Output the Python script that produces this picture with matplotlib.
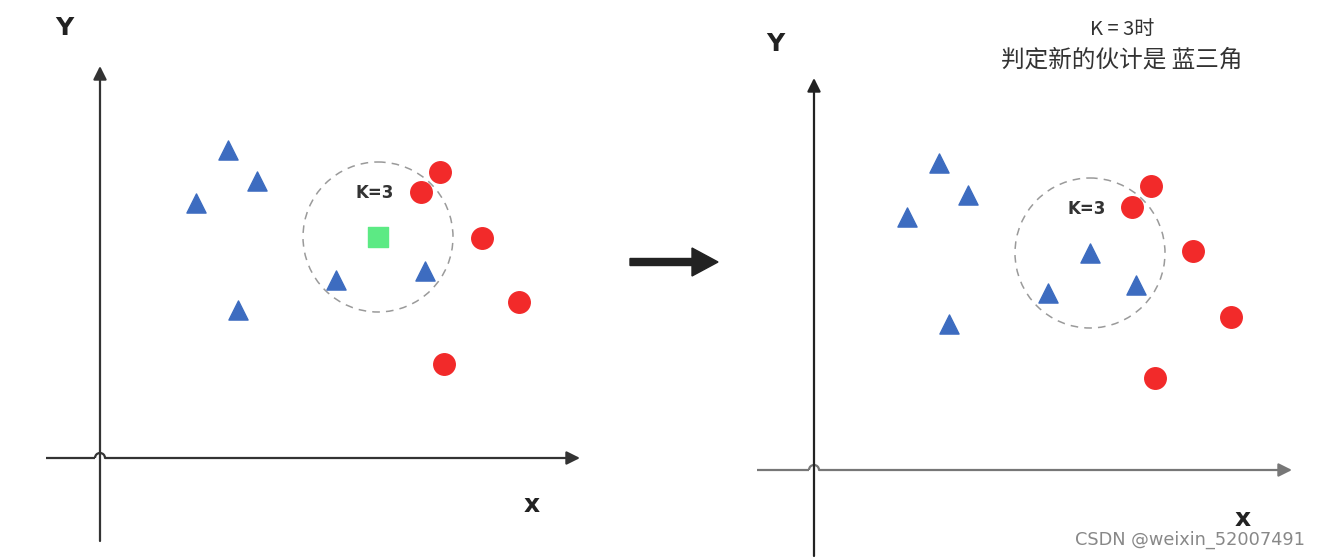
import matplotlib
matplotlib.use("Agg")
import matplotlib.pyplot as plt
from matplotlib.patches import Circle, Arc, FancyArrow

plt.rcParams['font.family'] = ['Noto Sans CJK SC', 'DejaVu Sans']

W, H = 1322, 559

# ---- data (pixel-space diagram coordinates) ----
left_tri_x = [228, 257, 196, 238, 336, 425]
left_tri_y = [150, 181, 203, 310, 280, 271]
left_red_x = [440, 421, 482, 519, 444]
left_red_y = [172, 192, 238, 302, 364]
left_new_x = [378]
left_new_y = [237]

right_tri_x = [939, 968, 907, 949, 1090, 1048, 1136]
right_tri_y = [163, 195, 217, 324, 253, 293, 285]
right_red_x = [1151, 1132, 1193, 1231, 1155]
right_red_y = [186, 207, 251, 317, 378]

k_value = 3
title_line1 = "K = 3时"
title_line2 = "判定新的伙计是 蓝三角"
watermark = "CSDN @weixin_52007491"

BLUE = '#3d6cc0'
RED = '#f22a2a'
GREEN = '#5cea84'

fig = plt.figure(figsize=(W / 100, H / 100), dpi=100)
ax = fig.add_axes([0, 0, 1, 1])
ax.set_xlim(0, W)
ax.set_ylim(H, 0)
ax.axis('off')


def draw_axes(ox, oy, x0, x1, ytop, ybot, xcol, ycol, ylab_pos, xlab_pos):
    r = 5
    # x axis with bump (hop over the y axis)
    ax.plot([x0, ox - r], [oy, oy], color=xcol, lw=1.6, solid_capstyle='butt')
    ax.add_patch(Arc((ox, oy), 2 * r, 2 * r, theta1=180, theta2=360, color=xcol, lw=1.6))
    ax.annotate('', xy=(x1, oy), xytext=(ox + r, oy),
                arrowprops=dict(arrowstyle='-|>', mutation_scale=20, lw=1.6,
                                color=xcol, shrinkA=0, shrinkB=0))
    # y axis
    ax.annotate('', xy=(ox, ytop), xytext=(ox, ybot),
                arrowprops=dict(arrowstyle='-|>', mutation_scale=20, lw=1.6,
                                color=ycol, shrinkA=0, shrinkB=0))
    ax.text(ylab_pos[0], ylab_pos[1], 'Y', fontsize=18, fontweight='bold',
            color='#222222', ha='center', va='center', family='DejaVu Sans')
    ax.text(xlab_pos[0], xlab_pos[1], 'x', fontsize=18, fontweight='bold',
            color='#222222', ha='center', va='center', family='DejaVu Sans')


draw_axes(100, 458, 46, 580, 66, 541, '#333333', '#333333', (64, 28), (532, 505))
draw_axes(814, 470, 757, 1292, 78, 556, '#777777', '#222222', (775, 44), (1243, 519))

# neighbourhood circles
for cx, cy in [(left_new_x[0], left_new_y[0]), (right_tri_x[4], right_tri_y[4])]:
    ax.add_patch(Circle((cx, cy), 75, fill=False, ls=(0, (5, 4)), lw=1.1,
                        color='#9a9a9a'))
    ax.text(cx - 3, cy - 44, f'K={k_value}', fontsize=12, fontweight='bold',
            color='#333333', ha='center', va='center', family='DejaVu Sans')

# points
ax.scatter(left_tri_x, left_tri_y, marker='^', s=190, color=BLUE, zorder=3)
ax.scatter(left_red_x, left_red_y, marker='o', s=240, color=RED, zorder=3)
ax.scatter(left_new_x, left_new_y, marker='s', s=200, color=GREEN, zorder=3)
ax.scatter(right_tri_x, right_tri_y, marker='^', s=190, color=BLUE, zorder=3)
ax.scatter(right_red_x, right_red_y, marker='o', s=240, color=RED, zorder=3)

# middle arrow
ax.add_patch(FancyArrow(630, 262, 88, 0, width=7, head_width=28, head_length=26,
                        length_includes_head=True, color='#222222'))

# title text
ax.text(1122, 30, title_line1, fontsize=14.5, color='#333333', ha='center', va='center')
ax.text(1122, 60, title_line2, fontsize=17, color='#333333', ha='center', va='center')

# watermark
ax.text(1190, 540, watermark, fontsize=12.8, color='#888888', ha='center', va='center',
        family='DejaVu Sans')

fig.savefig('out.png', dpi=100)
